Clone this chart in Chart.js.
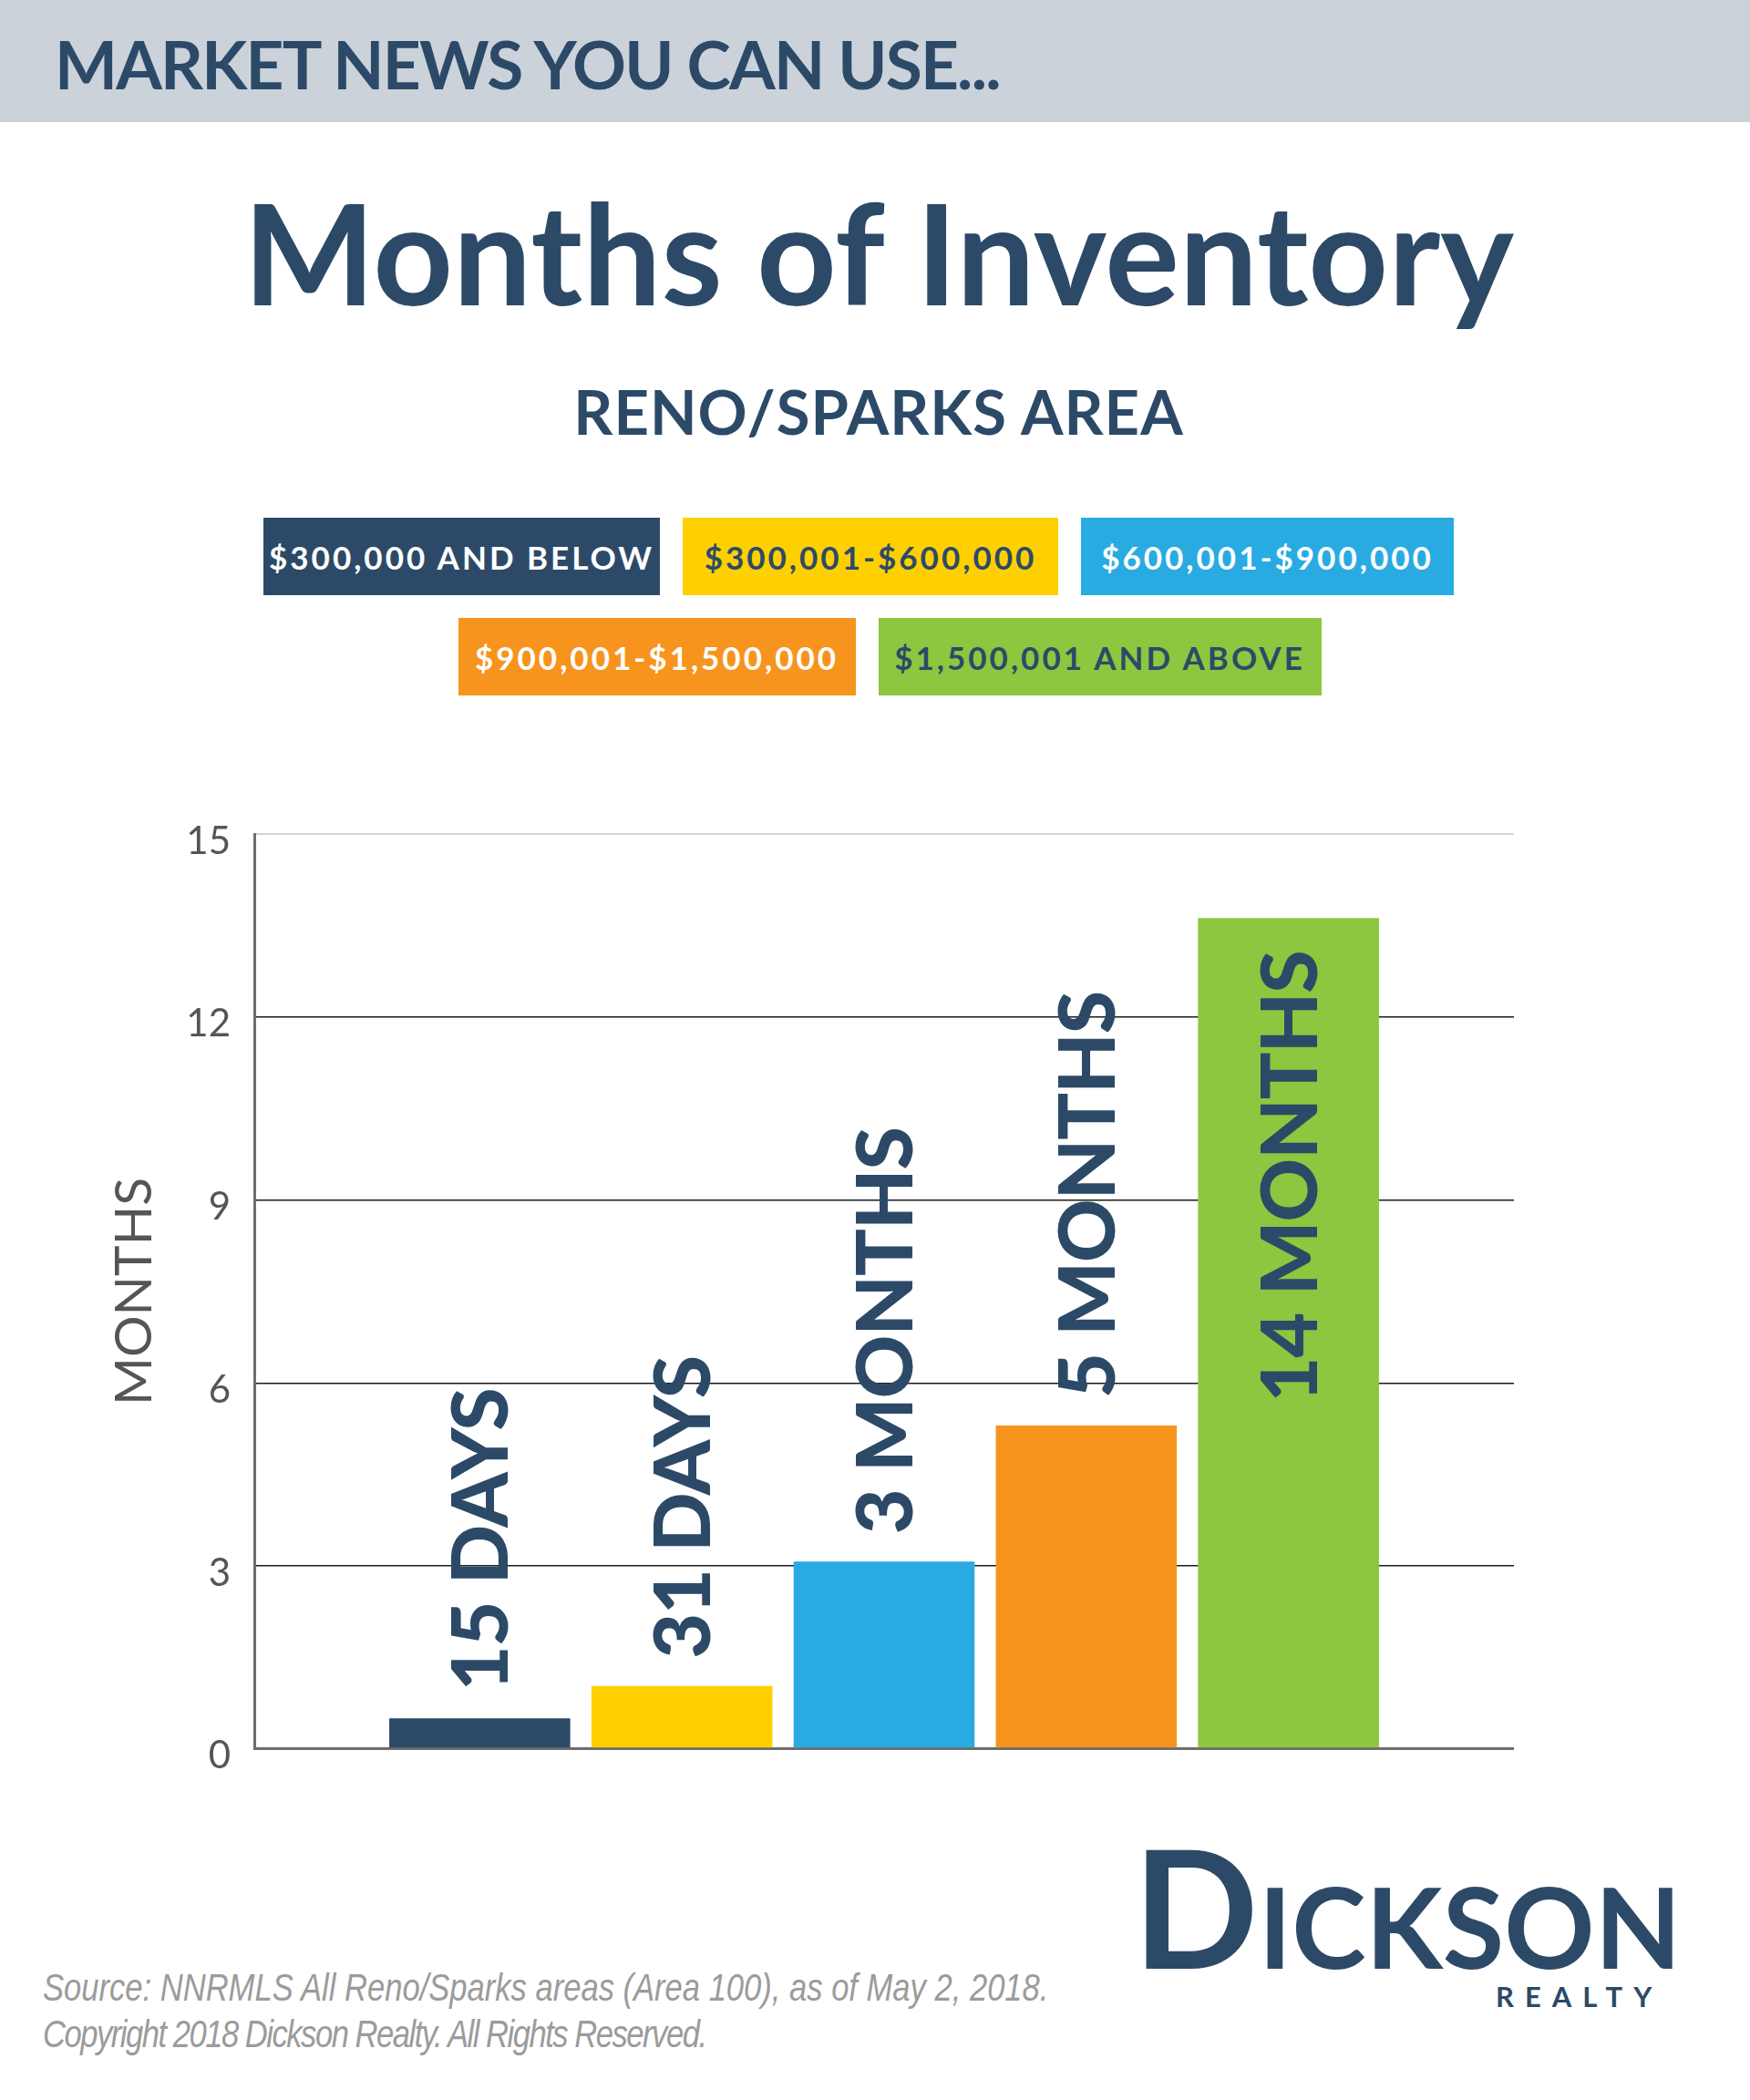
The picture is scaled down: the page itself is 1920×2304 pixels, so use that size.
<!DOCTYPE html>
<html>
<head>
<meta charset="utf-8">
<script src="https://cdn.jsdelivr.net/npm/chart.js@4"></script>
<style>
  body { margin: 0; width: 1920px; height: 2304px; background: #fff; overflow: hidden; position: relative; font-family: Lato, sans-serif; }
  .band { position: absolute; left: 0; top: 0; width: 1920px; height: 134px; background: #cbd2da; }
  .band span { position: absolute; left: 60px; top: 34px; font-size: 73px; line-height: 1; font-weight: 700; color: #2c4a68; letter-spacing: -1.8px; white-space: nowrap; }
  .title { position: absolute; left: 0; width: 1928px; text-align: center; top: 200px; font-size: 153px; line-height: 1; font-weight: 700; color: #2c4a68; }
  .subtitle { position: absolute; left: 0; width: 1928px; text-align: center; top: 418px; font-size: 67px; line-height: 1; font-weight: 700; color: #2c4a68; letter-spacing: 1px; }
  .legend-row { position: absolute; left: 0; width: 1920px; display: flex; justify-content: center; gap: 25px; box-sizing: border-box; }
  .legend-row div { height: 85px; display: flex; align-items: center; justify-content: center; font-size: 35px; font-weight: 700; letter-spacing: 3px; white-space: nowrap; }
  #wrap { position: absolute; left: 0; top: 860px; width: 1920px; height: 1110px; }
  .logo { position: absolute; left: 1243px; top: 2000px; color: #2c4a68; font-weight: 700; line-height: 1; white-space: nowrap; }
  .logo .big { font-size: 181px; }
  .logo .rest { font-size: 123px; letter-spacing: 0px; }
  .realty { position: absolute; left: 1641px; top: 2175px; font-size: 31px; line-height: 1; font-weight: 700; color: #2c4a68; letter-spacing: 12px; }
  .foot { position: absolute; left: 47px; font-family: "Liberation Sans", Arial, sans-serif; font-style: italic; font-size: 42px; line-height: 1; color: #9b9b9b; white-space: nowrap; transform: scaleX(0.823); transform-origin: left top; }
</style>
</head>
<body>
<div class="band"><span>MARKET NEWS YOU CAN USE...</span></div>
<div class="title">Months of Inventory</div>
<div class="subtitle">RENO/SPARKS AREA</div>
<div class="legend-row" id="row1" style="top:568px; padding-right:36px;"></div>
<div class="legend-row" id="row2" style="top:678px; padding-left:32px;"></div>
<div id="wrap"><canvas id="inventory-chart"></canvas></div>
<div class="logo" id="logo"><span class="big">D</span><span class="rest">ICKSON</span></div>
<div class="realty">REALTY</div>
<div class="foot" style="top:2160px;">Source: NNRMLS All Reno/Sparks areas (Area 100), as of May 2, 2018.</div>
<div class="foot" style="top:2211px; letter-spacing:-1.8px;">Copyright 2018 Dickson Realty. All Rights Reserved.</div>

<script>
const categories = ["$300,000 AND BELOW", "$300,001-$600,000", "$600,001-$900,000", "$900,001-$1,500,000", "$1,500,001 AND ABOVE"];
const monthsOfInventory = [0.5, 1.03, 3.07, 5.3, 13.62];
const barLabels = ["15 DAYS", "31 DAYS", "3 MONTHS", "5 MONTHS", "14 MONTHS"];
const yTicks = [0, 3, 6, 9, 12, 15];

const navy = "#2c4a68";
const barColors = [navy, "#fed000", "#29abe2", "#f7941d", "#8dc63f"];
const legendText = ["#fff", navy, "#fff", "#fff", navy];
const legendWidths = [435, 412, 409, 436, 486];

// legend boxes, 3 on the first row and 2 on the second
categories.forEach((c, i) => {
  const box = document.createElement("div");
  box.textContent = c;
  box.style.background = barColors[i];
  box.style.color = legendText[i];
  box.style.width = legendWidths[i] + "px";
  document.getElementById(i < 3 ? "row1" : "row2").appendChild(box);
});

const barLabelPlugin = {
  id: "barLabels",
  afterDatasetsDraw(chart) {
    const {ctx, chartArea} = chart;
    const meta = chart.getDatasetMeta(0);
    const size = 86;
    ctx.save();
    ctx.font = "900 " + size + "px Lato";
    if ("letterSpacing" in ctx) ctx.letterSpacing = "-1px";
    ctx.fillStyle = navy;
    ctx.textAlign = "left";
    ctx.textBaseline = "alphabetic";
    meta.data.forEach((bar, i) => {
      const text = barLabels[i];
      const w = ctx.measureText(text).width;
      let start = bar.y - 30;
      // no room above the bar -> put it inside
      if (start - w < chartArea.top) start = bar.y + 36 + w;
      ctx.save();
      ctx.translate(bar.x, start);
      ctx.rotate(-Math.PI / 2);
      ctx.fillText(text, 0, size * 0.36);
      ctx.restore();
    });
    ctx.restore();
  }
};

let chart = new Chart(document.getElementById("inventory-chart"), {
  type: "bar",
  data: {
    datasets: [{
      label: "Months of inventory",
      data: monthsOfInventory.map((v, i) => ({x: i, y: v})),
      backgroundColor: barColors,
      barPercentage: 1,
      categoryPercentage: 0.895
    }]
  },
  options: {
    responsive: true,
    maintainAspectRatio: false,
    animation: false,
    layout: { padding: { top: 55, bottom: 33, left: 0, right: 259 } },
    plugins: { legend: { display: false }, tooltip: { enabled: false } },
    scales: {
      x: {
        type: "linear",
        offset: false,
        min: -1.115,
        max: 5.115,
        display: false
      },
      y: {
        min: 0,
        max: 15,
        afterBuildTicks: s => { s.ticks = yTicks.map(v => ({value: v})); },
        afterFit: s => { s.width = 279; },
        border: { color: "#6d6d6d", width: 3 },
        grid: {
          drawTicks: false,
          color: c => c.tick.value === 15 ? "#d4d4d4" : (c.tick.value === 0 ? "#6d6d6d" : "#1a1a1a"),
          lineWidth: c => c.tick.value === 0 ? 3 : (c.tick.value === 15 ? 2 : 1.5)
        },
        ticks: {
          padding: 26,
          labelOffset: 8,
          color: "#555",
          font: { family: "Lato", size: 42, weight: 400 }
        },
        title: {
          display: true,
          text: "MONTHS",
          color: "#555",
          padding: { top: 119 },
          font: { family: "Lato", size: 57, weight: 400, lineHeight: 1 }
        }
      }
    }
  },
  plugins: [barLabelPlugin]
});
</script>
</body>
</html>
